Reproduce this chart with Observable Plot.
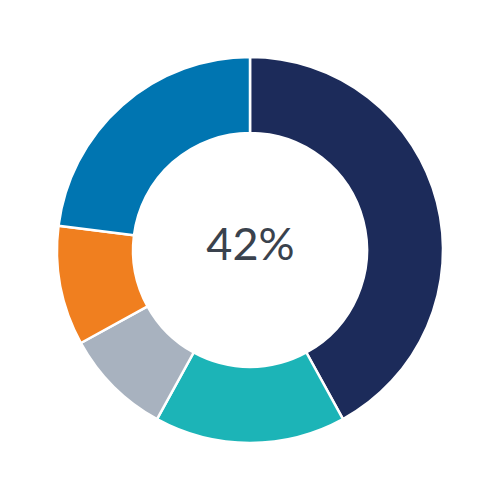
<!DOCTYPE html>
<html>
<head>
<meta charset="utf-8">
<script src="https://cdn.jsdelivr.net/npm/d3@7"></script>
<script src="https://cdn.jsdelivr.net/npm/@observablehq/plot@0.6"></script>
<style>
  html, body { margin: 0; padding: 0; background: #fff; }
  #chart { width: 500px; height: 500px; }
</style>
</head>
<body>
<div id="chart"></div>
<script>
const categories = ["A", "B", "C", "D", "E"];
const values = [42, 16, 9, 10, 23];
const colors = ["#1c2b5a", "#1cb4b7", "#a8b2bf", "#f07f1f", "#0075b1"];
const centerLabel = "42%";

const data = categories.map((c, i) => ({category: c, value: values[i]}));

const donut = (index, scales, values_, dimensions, context) => {
  const cx = scales.x(0), cy = scales.y(0);
  const outer = Math.abs(scales.x(1) - scales.x(0));
  const inner = outer * 0.606;
  const pie = d3.pie().sort(null).value(d => d.value)(data);
  const arc = d3.arc().innerRadius(inner).outerRadius(outer);
  const g = d3.create("svg:g").attr("transform", `translate(${cx},${cy})`);
  g.selectAll("path").data(pie).join("path")
    .attr("d", arc)
    .attr("fill", d => scales.color(d.data.category))
    .attr("stroke", "#fff")
    .attr("stroke-width", 2.5)
    .attr("stroke-linejoin", "round");
  return g.node();
};

const chart = Plot.plot({
  width: 500,
  height: 500,
  margin: 0,
  x: {domain: [-1, 1], range: [57, 443], axis: null},
  y: {domain: [-1, 1], range: [443, 57], axis: null},
  color: {domain: categories, range: colors},
  marks: [
    donut,
    Plot.text([centerLabel], {
      x: () => 0, y: () => 0, text: d => d,
      fontSize: 45, fontWeight: 400, fill: "#3a424d",
      fontFamily: "Lato", dy: -5
    })
  ]
});
document.getElementById("chart").appendChild(chart);
</script>
</body>
</html>
